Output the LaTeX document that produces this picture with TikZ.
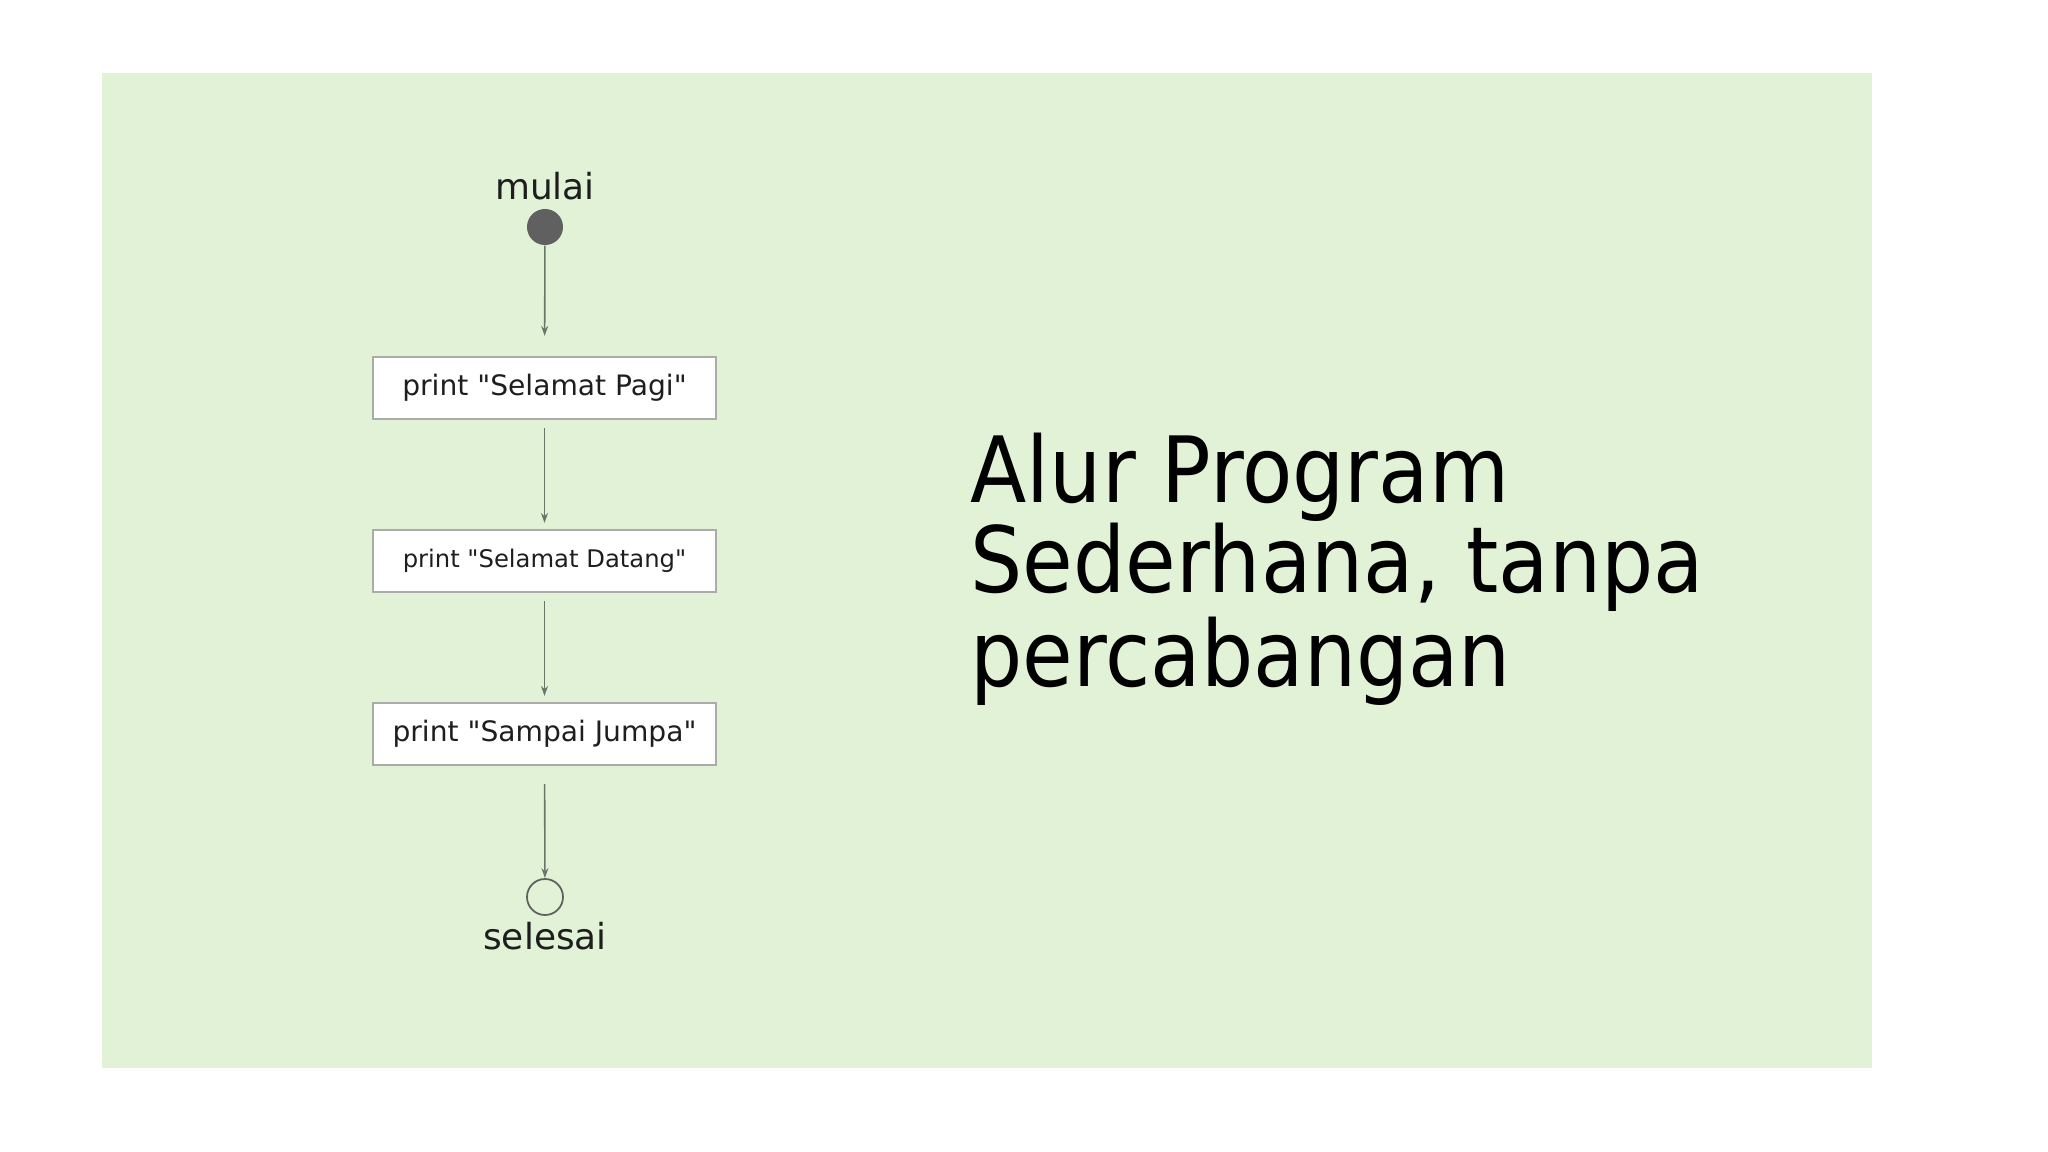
\documentclass[tikz,border=0pt]{standalone}
\usepackage{fontspec}
\setmainfont{DejaVu Sans}
\newfontfamily\dvplain{DejaVu Sans}
\usetikzlibrary{arrows.meta}
\definecolor{bgreen}{RGB}{226,242,214}
\definecolor{flowc}{RGB}{105,118,105}
\definecolor{boxc}{RGB}{170,172,170}
\definecolor{dotc}{RGB}{96,96,96}
\definecolor{txtc}{RGB}{30,30,30}
\tikzset{
  flow/.style={draw=flowc, line width=0.45pt, -{Stealth[length=0.1cm,width=0.07cm]}},
  stepbox/.style={draw=boxc, fill=white, line width=0.6pt, minimum width=3.43cm, minimum height=0.62cm, inner sep=0pt, text=txtc},
  lbl/.style={text=txtc, inner sep=0pt, font=\fontsize{10.2}{12}\selectfont},
  titletxt/.style={text=black, inner sep=0pt, anchor=base west, font=\fontsize{26}{28}\selectfont}
}
\begin{document}
\begin{tikzpicture}[x=0.01cm,y=-0.01cm]
\useasboundingbox[fill=white] (0,0) rectangle (2048,1152);
\fill[bgreen] (102,73) rectangle (1872,1068);
% start / end
\node[circle, fill=dotc, minimum size=0.36cm, inner sep=0pt] (start) at (545,227) {};
\node[lbl, anchor=base] (mulai) at (545,200) {mulai};
\node[stepbox, font=\dvplain\fontsize{8}{10}\selectfont] (b1) at (544.5,388) {print "Selamat Pagi"};
\node[stepbox, font=\dvplain\fontsize{6.9}{9}\selectfont] (b2) at (544.5,561) {print "Selamat Datang"};
\node[stepbox, font=\dvplain\fontsize{8}{10}\selectfont] (b3) at (544.5,734) {print "Sampai Jumpa"};
\node[circle, draw=dotc, line width=0.5pt, minimum size=0.36cm, inner sep=0pt] (stop) at (545,897) {};
\node[lbl, anchor=base] (selesai) at (545,949) {selesai};
% connectors
\draw[flow, shorten >=0.2cm] (start) -- (b1);
\draw[flow, shorten <=0.08cm, shorten >=0.06cm] (b1) -- (b2);
\draw[flow, shorten <=0.08cm, shorten >=0.06cm] (b2) -- (b3);
\draw[flow, shorten <=0.18cm] (b3) -- (stop);
% title
\node[titletxt] (t1) at (970,503) {\scalebox{0.9}[1]{Alur Program}};
\node[titletxt] (t2) at (970,593) {\scalebox{0.9}[1]{Sederhana, tanpa}};
\node[titletxt] (t3) at (970,686) {\scalebox{0.9}[1]{percabangan}};
\end{tikzpicture}
\end{document}
